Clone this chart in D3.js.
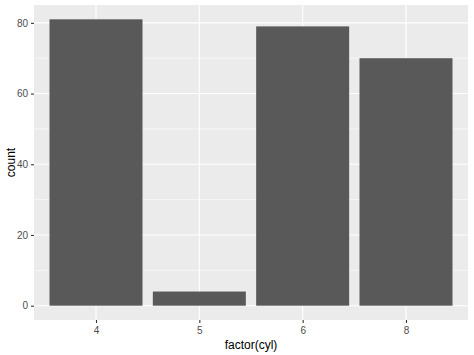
<!DOCTYPE html>
<html>
<head>
<meta charset="utf-8">
<script src="https://cdn.jsdelivr.net/npm/d3@7"></script>
<style>
  body { margin: 0; background: #fff; }
  svg { display: block; font-family: "Liberation Sans", Arial, sans-serif; }
</style>
</head>
<body>
<svg id="chart" width="474" height="355"></svg>
<script>
const categories = ["4", "5", "6", "8"];
const counts = [81, 4, 79, 70];
const yTicks = [0, 20, 40, 60, 80];
const yMinor = [10, 30, 50, 70];

const W = 474, H = 355;
const panel = { left: 34, top: 5, right: 468, bottom: 320 };

const svg = d3.select("#chart");

// discrete x like ggplot: expand 0.6 units each side
const xPos = d3.scaleLinear()
    .domain([0.4, categories.length + 0.6])
    .range([panel.left, panel.right]);
const step = xPos(2) - xPos(1);

const yMax = d3.max(counts);
const y = d3.scaleLinear()
    .domain([-yMax * 0.05, yMax * 1.05])
    .range([panel.bottom, panel.top]);

svg.append("rect")
    .attr("x", panel.left).attr("y", panel.top)
    .attr("width", panel.right - panel.left)
    .attr("height", panel.bottom - panel.top)
    .attr("fill", "#EBEBEB");

// minor grid
svg.append("g").selectAll("line")
    .data(yMinor).join("line")
    .attr("x1", panel.left).attr("x2", panel.right)
    .attr("y1", d => y(d)).attr("y2", d => y(d))
    .attr("stroke", "#fff").attr("stroke-width", 0.55);

// major grid
svg.append("g").selectAll("line")
    .data(yTicks).join("line")
    .attr("x1", panel.left).attr("x2", panel.right)
    .attr("y1", d => y(d)).attr("y2", d => y(d))
    .attr("stroke", "#fff").attr("stroke-width", 1.1);

svg.append("g").selectAll("line")
    .data(categories).join("line")
    .attr("x1", (d, i) => xPos(i + 1)).attr("x2", (d, i) => xPos(i + 1))
    .attr("y1", panel.top).attr("y2", panel.bottom)
    .attr("stroke", "#fff").attr("stroke-width", 1.1);

// bars
svg.append("g").selectAll("rect")
    .data(counts).join("rect")
    .attr("x", (d, i) => xPos(i + 1) - step * 0.45)
    .attr("width", step * 0.9)
    .attr("y", d => y(d))
    .attr("height", d => y(0) - y(d))
    .attr("fill", "#595959");

// y axis
const yAxis = svg.append("g")
    .attr("transform", `translate(${panel.left},0)`)
    .call(d3.axisLeft(y).tickValues(yTicks).tickSize(3).tickPadding(3));
yAxis.select(".domain").remove();
yAxis.selectAll("line").attr("stroke", "#333333").attr("stroke-width", 1.1);
yAxis.selectAll("text").attr("fill", "#4D4D4D").attr("font-size", "10px")
    .attr("font-family", "Liberation Sans, Arial, sans-serif");

// x axis
const xAxis = svg.append("g")
    .attr("transform", `translate(0,${panel.bottom})`)
    .call(d3.axisBottom(xPos).tickValues([1, 2, 3, 4])
        .tickFormat(d => categories[d - 1]).tickSize(3).tickPadding(4));
xAxis.select(".domain").remove();
xAxis.selectAll("line").attr("stroke", "#333333").attr("stroke-width", 1.1);
xAxis.selectAll("text").attr("fill", "#4D4D4D").attr("font-size", "10px")
    .attr("font-family", "Liberation Sans, Arial, sans-serif");

// axis titles
svg.append("text")
    .attr("x", (panel.left + panel.right) / 2)
    .attr("y", 349)
    .attr("text-anchor", "middle")
    .attr("font-size", "12px")
    .attr("fill", "#000")
    .text("factor(cyl)");

svg.append("text")
    .attr("transform", `translate(15,${(panel.top + panel.bottom) / 2}) rotate(-90)`)
    .attr("text-anchor", "middle")
    .attr("font-size", "12px")
    .attr("fill", "#000")
    .text("count");
</script>
</body>
</html>
